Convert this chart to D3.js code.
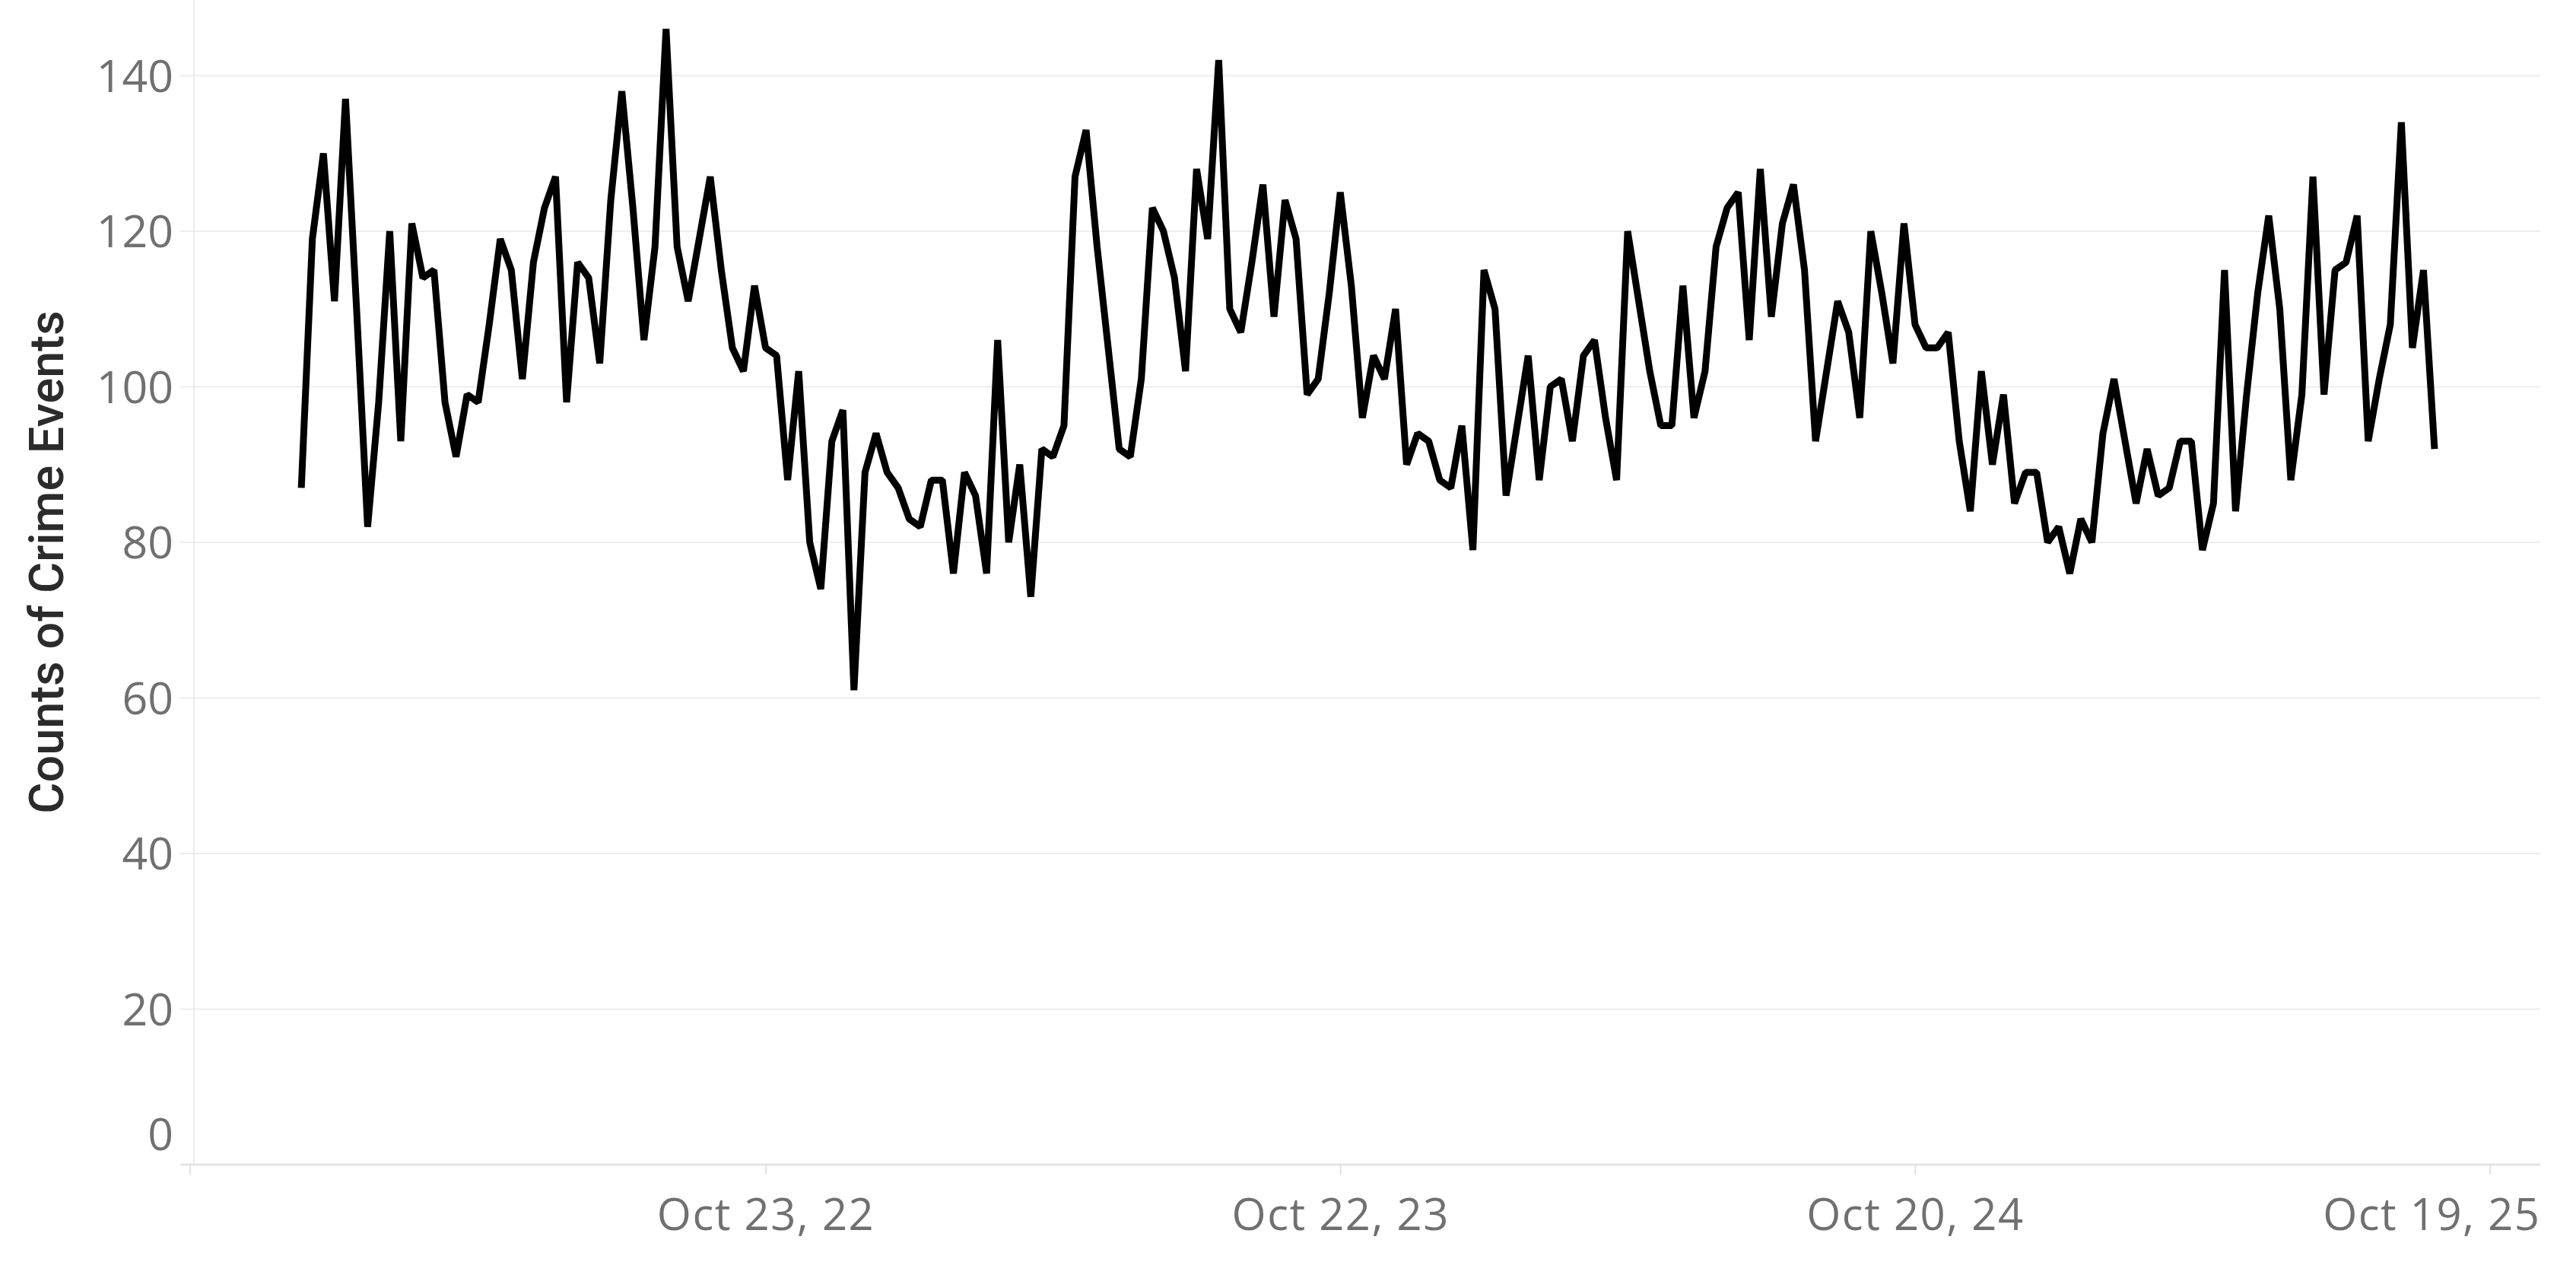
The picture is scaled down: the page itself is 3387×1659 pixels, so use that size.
<!DOCTYPE html>
<html><head><meta charset="utf-8">
<script src="https://cdn.jsdelivr.net/npm/d3@7"></script>
<style>html,body{margin:0;padding:0;background:#fff;} svg{display:block;}</style>
</head><body>
<svg id="chart" width="3387" height="1659"></svg>
<script>
// ---- data ----
const firstWeek = "2022-01-02";          // first weekly bucket (Sunday)
const counts2022 = [87,119,130,111,137,110,82,98,120,93,
  121,114,115,98,91,99,98,108,119,115,
  101,116,123,127,98,116,114,103,124,138,
  123,106,118,146,118,111,119,127,115,105,
  102,113,105,104,88,102,80,74,93,97,
  61,89];
const counts2023 = [94,89,87,83,82,88,88,76,89,86,
  76,106,80,90,73,92,91,95,127,133,
  118,105,92,91,101,123,120,114,102,128,
  119,142,110,107,116,126,109,124,119,99,
  101,112,125,113,96,104,101,110,90,94,
  93,88,87];
const counts2024 = [95,79,115,110,86,95,104,88,100,101,
  93,104,106,96,88,120,111,102,95,95,
  113,96,102,118,123,125,106,128,109,121,
  126,115,93,102,111,107,96,120,112,103,
  121,108,105,105,107,93,84,102,90,99,
  85,89];
const counts2025 = [89,80,82,76,83,80,94,101,93,85,
  92,86,87,93,93,79,85,115,84,99,
  112,122,110,88,99,127,99,115,116,122,
  93,101,108,134,105,115,92];
const yTicks = [0,20,40,60,80,100,120,140];
const xTickDates = ["2022-10-23","2023-10-22","2024-10-20","2025-10-19"];
const xTickLabels = ["Oct 23, 22","Oct 22, 23","Oct 20, 24","Oct 19, 25"];
const xDomainDates = ["2021-10-26","2025-11-19"];
const yTitle = "Counts of Crime Events";

// ---- build ----
const parse = d3.utcParse("%Y-%m-%d");
const counts = [].concat(counts2022, counts2023, counts2024, counts2025);
const start = parse(firstWeek);
const weeks = d3.utcSunday.range(start, d3.utcSunday.offset(start, counts.length));
const data = counts.map((v,i)=>({date:weeks[i], value:v}));

const svg = d3.select("#chart");
const left = 255, right = 3340, bottom = 1531;
const x = d3.scaleUtc().domain(xDomainDates.map(parse)).range([255, 3338]);
const y = d3.scaleLinear().domain([0,140]).range([bottom, 99.4]);

// gridlines
svg.append("g").selectAll("line").data(yTicks.filter(d=>d>0)).join("line")
  .attr("x1", 237).attr("x2", right)
  .attr("y1", d=>y(d)).attr("y2", d=>y(d))
  .attr("stroke", "#ededed").attr("stroke-width", 2);

// left axis line
svg.append("line").attr("x1", left).attr("x2", left).attr("y1", 0).attr("y2", bottom)
  .attr("stroke", "#ebebeb").attr("stroke-width", 2);

// y axis labels
const gy = svg.append("g").attr("transform", `translate(${left},0)`)
  .call(d3.axisLeft(y).tickValues(yTicks).tickSize(0).tickPadding(27));
gy.select(".domain").remove();
gy.selectAll("text")
  .attr("font-family", "'Open Sans', sans-serif").attr("font-size", 59)
  .attr("fill", "#707070")
  .attr("dy", d => d === 0 ? "-0.33em" : "0.35em");

// x axis
const gx = svg.append("g").attr("transform", `translate(0,${bottom})`)
  .call(d3.axisBottom(x).tickValues(xTickDates.map(parse)).tickSize(13)
        .tickFormat((d,i)=>xTickLabels[i]));
gx.select(".domain").remove();
gx.selectAll(".tick line").attr("stroke", "#e0e0e0").attr("stroke-width", 2);
gx.selectAll("text")
  .attr("font-family", "'Open Sans', sans-serif").attr("font-size", 58)
  .attr("letter-spacing", 1.5)
  .attr("fill", "#707070").attr("y", 66).attr("dy", "0.35em");
// keep the last label inside the chart edge (right-aligned to the axis end)
gx.selectAll(".tick").filter((d,i,n)=>i===n.length-1).select("text")
  .attr("text-anchor", "end")
  .attr("x", right - x(parse(xTickDates[xTickDates.length-1])));
// left edge tick
svg.append("line").attr("x1", 250).attr("x2", 250).attr("y1", bottom).attr("y2", bottom+13)
  .attr("stroke", "#e0e0e0").attr("stroke-width", 2);
// bottom axis line
svg.append("line").attr("x1", 237).attr("x2", right).attr("y1", bottom).attr("y2", bottom)
  .attr("stroke", "#e4e4e4").attr("stroke-width", 3);

// y title
svg.append("text").attr("transform", "translate(83,739) rotate(-90)")
  .attr("text-anchor", "middle")
  .attr("font-family", "Roboto, sans-serif").attr("font-weight", 500).attr("font-size", 63)
  .attr("fill", "#2b2b2b").text(yTitle);

// line
svg.append("path").datum(data)
  .attr("d", d3.line().x(d=>x(d.date)).y(d=>y(d.value)))
  .attr("fill", "none").attr("stroke", "#000").attr("stroke-width", 9)
  .attr("stroke-linejoin", "bevel");
</script>
</body></html>
